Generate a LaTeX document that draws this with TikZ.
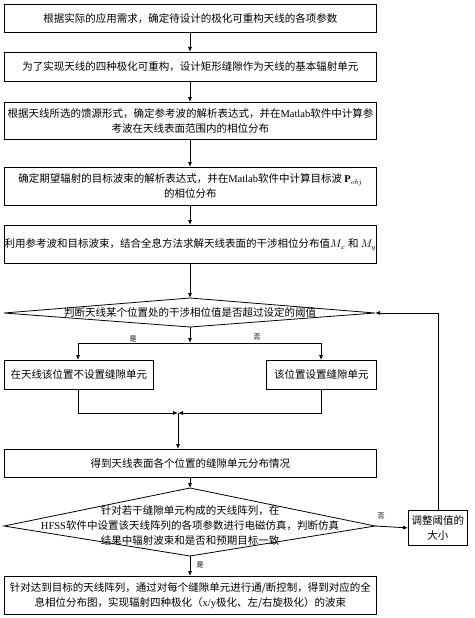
\documentclass[tikz,border=0pt]{standalone}
\usepackage{fontspec}
\setmainfont{Liberation Serif}
\newfontfamily\cjk{Noto Sans CJK SC}
\usetikzlibrary{arrows.meta}
\tikzset{
  box/.style={draw, line width=0.8pt, inner sep=0pt, anchor=north west, align=center,
    font=\cjk\fontsize{10.5}{15}\selectfont},
  txt/.style={inner sep=0pt, align=center, font=\cjk\fontsize{10.5}{15}\selectfont},
  lbl/.style={inner sep=0pt, font=\cjk\fontsize{7}{8}\selectfont},
  arr/.style={line width=0.8pt, -{Latex[length=5pt,width=4pt]}},
  ln/.style={line width=0.8pt},
}
\begin{document}
\begin{tikzpicture}[x=1pt,y=-1pt]
\useasboundingbox (0,0) rectangle (474,618);
\node[box, minimum width=372pt, minimum height=28pt] (b1) at (4,4) {根据实际的应用需求，确定待设计的极化可重构天线的各项参数};
\node[box, minimum width=372pt, minimum height=29pt] (b2) at (4,52) {为了实现天线的四种极化可重构，设计矩形缝隙作为天线的基本辐射单元};
\node[box, minimum width=372pt, minimum height=37pt] (b3) at (4,102) {根据天线所选的馈源形式，确定参考波的解析表达式，并在{\rmfamily Matlab}软件中计算参\\考波在天线表面范围内的相位分布};
\node[box, minimum width=372pt, minimum height=38pt] (b4) at (4,167) {确定期望辐射的目标波束的解析表达式，并在{\rmfamily Matlab}软件中计算目标波 $\mathbf{P}_{obj}$\\的相位分布};
\node[box, minimum width=372pt, minimum height=38pt] (b5) at (4,225) {利用参考波和目标波束，结合全息方法求解天线表面的干涉相位分布值$M_x$ 和 $M_y$};
% diamond 1
\coordinate (d1t) at (190,298);
\coordinate (d1l) at (4,313);
\coordinate (d1r) at (375,313);
\coordinate (d1b) at (190,327);
\draw[ln] (d1l) -- (d1t) -- (d1r) -- (d1b) -- cycle;
\node[txt] (d1) at (190,313) {判断天线某个位置处的干涉相位值是否超过设定的阈值};
\node[box, minimum width=149pt, minimum height=29pt] (bl) at (4,360) {在天线该位置不设置缝隙单元};
\node[box, minimum width=110pt, minimum height=29pt] (br) at (266,360) {该位置设置缝隙单元};
\node[box, minimum width=372pt, minimum height=28pt] (b6) at (4,449) {得到天线表面各个位置的缝隙单元分布情况};
% diamond 2
\coordinate (d2t) at (190,488);
\coordinate (d2l) at (4,526);
\coordinate (d2r) at (375,526);
\coordinate (d2b) at (190,556);
\draw[ln] (d2l) -- (d2t) -- (d2r) -- (d2b) -- cycle;
\node[txt] (d2) at (190,526) {针对若干缝隙单元构成的天线阵列，在\\{\rmfamily HFSS}软件中设置该天线阵列的各项参数进行电磁仿真，判断仿真\\结果中辐射波束和是否和预期目标一致};
\node[box, minimum width=59pt, minimum height=35pt] (b7) at (408,510) {调整阈值的\\大小};
\node[box, minimum width=372pt, minimum height=38pt] (b8) at (4,576) {针对达到目标的天线阵列，通过对每个缝隙单元进行通/断控制，得到对应的全\\息相位分布图，实现辐射四种极化（{\rmfamily x/y}极化、左/右旋极化）的波束};
% connectors
\draw[arr] (b1.south -| 190,0) -- (b2.north -| 190,0);
\draw[arr] (b2.south -| 190,0) -- (b3.north -| 190,0);
\draw[arr] (b3.south -| 190,0) -- (b4.north -| 190,0);
\draw[arr] (b4.south -| 190,0) -- (b5.north -| 190,0);
\draw[arr] (b5.south -| 190,0) -- (d1t);
\coordinate (j1) at (190,343);
\draw[arr] (d1b) -- (j1);
\draw[arr] (j1) -- (78,343) -- (bl.north -| 78,0);
\draw[arr] (j1) -- (321,343) -- (br.north -| 321,0);
\node[lbl] at (133,339) {是};
\node[lbl] at (257,337) {否};
\coordinate (m) at (178,413);
\draw[arr] (bl.south -| 78,0) -- (78,413) -- (m);
\draw[arr] (br.south -| 321,0) -- (321,413) -- (m);
\draw[arr] (m) -- (b6.north -| m);
\draw[arr] (b6.south -| 190,0) -- (d2t);
\draw[arr] (d2r) -- (b7.west);
\node[lbl] at (381,516) {否};
\draw[arr] (b7.north) -- (b7.north |- d1r) -- (d1r);
\draw[arr] (d2b) -- (b8.north -| d2b);
\node[lbl] at (200,565) {是};
\end{tikzpicture}
\end{document}
